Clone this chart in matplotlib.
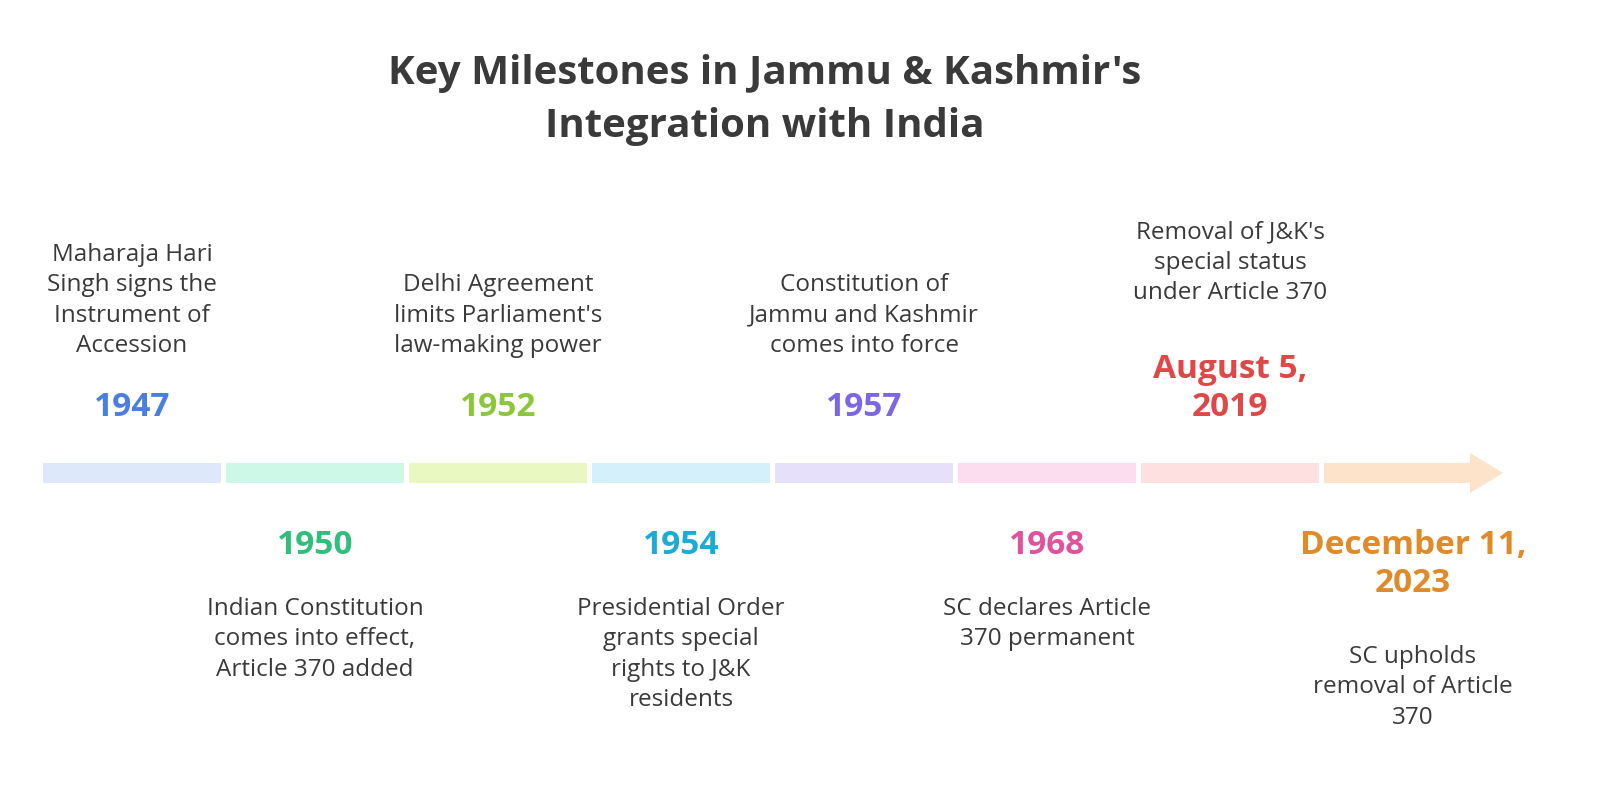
import matplotlib
matplotlib.use("Agg")
import matplotlib.pyplot as plt
from matplotlib.patches import Rectangle, Polygon

years = ["1947", "1950", "1952", "1954", "1957", "1968", "August 5,\n2019", "December 11,\n2023"]
descs = ["Maharaja Hari\nSingh signs the\nInstrument of\nAccession",
         "Indian Constitution\ncomes into effect,\nArticle 370 added",
         "Delhi Agreement\nlimits Parliament's\nlaw-making power",
         "Presidential Order\ngrants special\nrights to J&K\nresidents",
         "Constitution of\nJammu and Kashmir\ncomes into force",
         "SC declares Article\n370 permanent",
         "Removal of J&K's\nspecial status\nunder Article 370",
         "SC upholds\nremoval of Article\n370"]
year_colors = ["#4a7fe0", "#2fbf7a", "#8cc63a", "#1aabd9", "#7b66e6", "#e0529c", "#e04848", "#e08a2a"]
bar_colors = ["#dde8fb", "#cdf7e6", "#e9f8c0", "#d4f1fb", "#e6e0fa", "#fcdcef", "#fde0df", "#fde3c9"]
title = "Key Milestones in Jammu & Kashmir's\nIntegration with India"

fig = plt.figure(figsize=(16, 7.98), dpi=100)
ax = fig.add_axes([0, 0, 1, 1])
ax.set_xlim(0, 1600); ax.set_ylim(798, 0); ax.axis("off")
txt = "#3a3a3a"
ax.text(765, 100, title, ha="center", va="center", fontsize=29, fontweight="bold",
        color=txt, family="Open Sans", linespacing=1.45)

x0, w, gap = 43, 178, 5
for i, (y, d, yc, bc) in enumerate(zip(years, descs, year_colors, bar_colors)):
    left = x0 + i * (w + gap)
    seg_w = w if i < len(years) - 1 else 146
    ax.add_patch(Rectangle((left, 463), seg_w, 20, color=bc, lw=0))
    cx = left + w / 2
    if i % 2 == 0:
        yy = 408 if i != 6 else 388
        ax.text(cx, yy, y, ha="center", va="center", fontsize=24, fontweight="bold",
                color=yc, family="Open Sans", linespacing=1.2)
        ax.text(cx, 358 if i != 6 else 305, d, ha="center", va="bottom",
                fontsize=17.5, color=txt, family="Open Sans", linespacing=1.35)
    else:
        ax.text(cx, 545 if i != 7 else 565, y, ha="center", va="center", fontsize=24, fontweight="bold",
                color=yc, family="Open Sans", linespacing=1.2)
        top = 597 if i != 7 else 645
        ax.text(cx, top, d, ha="center", va="top", fontsize=17.5, color=txt,
                family="Open Sans", linespacing=1.35)
last_left = x0 + 7 * (w + gap)
ax.add_patch(Polygon([(last_left + 146, 453), (last_left + 179, 473), (last_left + 146, 493)],
                     closed=True, color=bar_colors[-1], lw=0))
fig.savefig("out.png", dpi=100, facecolor="white")
